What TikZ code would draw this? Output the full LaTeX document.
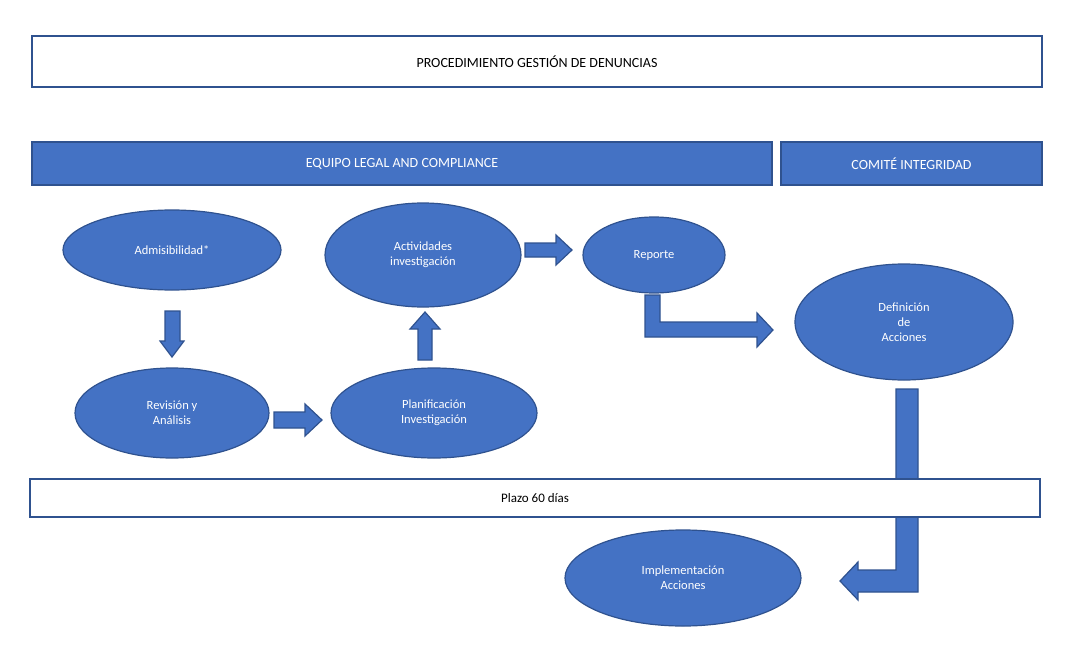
\documentclass[tikz,border=0pt]{standalone}
\usepackage{fontspec}
\setmainfont{Carlito}
\usetikzlibrary{shapes.geometric}
\definecolor{fillb}{HTML}{4472C4}
\definecolor{edgeb}{HTML}{2F528F}
\begin{document}
\begin{tikzpicture}[x=1pt,y=-1pt,
 ell/.style={ellipse,draw=edgeb,fill=fillb,line width=1.2pt,text=white,font=\fontsize{12.5}{15}\selectfont,align=center,inner sep=0pt},
 bar/.style={draw=edgeb,fill=fillb,line width=1.2pt,text=white,font=\fontsize{14}{17}\selectfont},
 wbox/.style={draw=edgeb,fill=white,line width=1.2pt,font=\fontsize{14}{17}\selectfont},
 blk/.style={draw=edgeb,fill=fillb,line width=1.2pt}]
\useasboundingbox (0,0) rectangle (1073,669);
\node[wbox,minimum width=1010pt,minimum height=51pt] (title) at (537,61.5) {PROCEDIMIENTO GESTIÓN DE DENUNCIAS};
\node[bar,minimum width=740pt,minimum height=43pt] (eq) at (402,163.5) {EQUIPO LEGAL AND COMPLIANCE};
\node[bar,minimum width=261pt,minimum height=43pt] (ci) at (911.5,163.5) {COMITÉ INTEGRIDAD};
\node[ell,minimum width=218pt,minimum height=80pt] (adm) at (172,250) {Admisibilidad*};
\node[ell,minimum width=194pt,minimum height=90pt] (rev) at (172,413) {Revisión y\\Análisis};
\node[ell,minimum width=206pt,minimum height=90pt] (pla) at (434,413) {Planificación\\Investigación};
\node[ell,minimum width=196pt,minimum height=104pt] (act) at (423,255) {Actividades\\investigación};
\node[ell,minimum width=142pt,minimum height=76pt] (rep) at (654,255) {Reporte};
\node[ell,minimum width=218pt,minimum height=116pt] (def) at (904,322) {Definición\\de\\Acciones};
\node[ell,minimum width=236pt,minimum height=96pt] (imp) at (683,578) {Implementación\\Acciones};
% block arrows
\draw[blk] (165,311) -- (180,311) -- (180,341) -- (184,341) -- (172,357) -- (160,341) -- (165,341) -- cycle;
\draw[blk] (274,412) -- (305,412) -- (305,404) -- (322,420) -- (305,436) -- (305,428) -- (274,428) -- cycle;
\draw[blk] (418,360) -- (418,329) -- (410,329) -- (425,312) -- (440,329) -- (432,329) -- (432,360) -- cycle;
\draw[blk] (525,243) -- (556,243) -- (556,235) -- (572,250) -- (556,265) -- (556,257) -- (525,257) -- cycle;
\draw[blk] (645,295) -- (660,295) -- (660,322) -- (757,322) -- (757,313) -- (773,330) -- (757,347) -- (757,337) -- (645,337) -- cycle;
\draw[blk] (896,389) -- (918,389) -- (918,592) -- (858,592) -- (858,600) -- (840,581) -- (858,562) -- (858,570) -- (896,570) -- cycle;
\node[wbox,minimum width=1010pt,minimum height=38pt,font=\fontsize{13}{16}\selectfont] (plazo) at (535,498) {Plazo 60 días};
\end{tikzpicture}
\end{document}
